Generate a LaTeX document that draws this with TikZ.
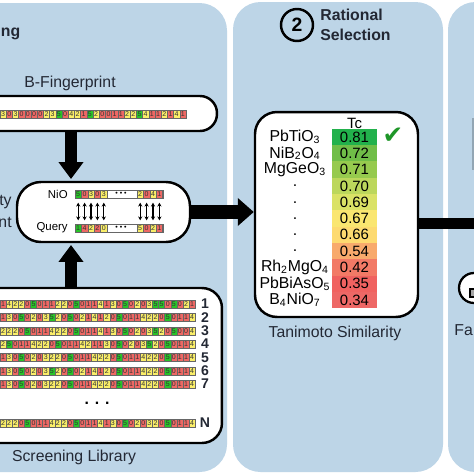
\documentclass[tikz,border=0pt]{standalone}
\usepackage{fontspec}
\setmainfont{Liberation Sans}
\newfontfamily\symfont{DejaVu Sans}
\usetikzlibrary{arrows.meta,positioning}
\definecolor{panelblue}{RGB}{189,213,231}
\definecolor{inkgray}{RGB}{35,40,52}
\definecolor{bitred}{RGB}{238,104,100}
\definecolor{bityellow}{RGB}{250,238,104}
\definecolor{bitgreen}{RGB}{40,196,40}
\colorlet{bit0}{bitred}\colorlet{bit1}{bitred}
\colorlet{bit2}{bityellow}\colorlet{bit3}{bityellow}\colorlet{bit4}{bityellow}
\colorlet{bit5}{bitgreen}
\colorlet{bitR}{bitred}\colorlet{bitY}{bityellow}\colorlet{bitG}{bitgreen}
\definecolor{tcA}{RGB}{34,177,76}
\definecolor{tcB}{RGB}{112,190,72}
\definecolor{tcC}{RGB}{150,202,78}
\definecolor{tcD}{RGB}{188,215,92}
\definecolor{tcE}{RGB}{218,226,102}
\definecolor{tcF}{RGB}{250,230,112}
\definecolor{tcG}{RGB}{253,218,112}
\definecolor{tcH}{RGB}{248,170,108}
\definecolor{tcI}{RGB}{242,122,102}
\definecolor{tcJ}{RGB}{240,98,96}
\definecolor{tcK}{RGB}{238,104,102}
\definecolor{tickgreen}{RGB}{30,150,40}
\tikzset{
  panel/.style={fill=panelblue, rounded corners=0.55cm},
  stadium/.style={draw, fill=white, line width=1.4pt, rounded corners=#1, inner sep=0pt},
  bitcell/.style={draw=black!60, line width=0.25pt, inner sep=0pt, minimum height=0.16cm, minimum width=#1, font=\fontsize{4}{4}\selectfont, text=black!80},
  bitframe/.style={draw=black!60, line width=0.25pt, fill=white},
  bigarrow/.style={line width=0.26cm, -{Triangle[width=0.48cm,length=0.34cm]}},
  bigline/.style={line width=0.23cm},
  pairarrow/.style={line width=0.7pt, {Stealth[length=2.2pt,width=2.4pt]}-{Stealth[length=2.2pt,width=2.4pt]}, shorten <=0.09cm, shorten >=0.07cm},
  lbl/.style={font=\fontsize{9}{11}\selectfont, text=inkgray, inner sep=0pt},
  small/.style={font=\fontsize{6.5}{7}\selectfont, inner sep=0pt},
  tcval/.style={inner sep=0pt, minimum width=0.9cm, minimum height=0.326cm, font=\fontsize{8.5}{9}\selectfont},
  formula/.style={font=\fontsize{9}{10}\selectfont, inner sep=0pt}
}
\begin{document}
\begin{tikzpicture}[x=0.02cm,y=-0.02cm]
\useasboundingbox (0,0) rectangle (474,474);
\fill[white] (0,0) rectangle (474,474);
\fill[panel] (-40,3) rectangle (227,472);
\fill[panel] (233,2) rectangle (443,472);
\fill[panel] (448,2) rectangle (540,472);

% fingerprinting
\node[lbl, font=\fontsize{9}{11}\selectfont\bfseries, anchor=west] (title1) at (0.5,34) {ng};
\node[lbl] (bfplbl) at (70,83) {B-Fingerprint};
\node[stadium=0.34cm, minimum width=5.14cm, minimum height=0.7cm] (bfp) at (88.5,113.5) {};
\foreach \d [count=\i] in {3,0,3,0,0,0,0,2,3,5,0,4,2,1,5,2,0,0,1,1,2,2,5,4,1,1,2,1,4,1}
  \node[bitcell=0.124cm, fill=bit\d] (b\i) at ({6.2*\i-3.1},114) {\d};

\node[stadium=0.48cm, minimum width=3.46cm, minimum height=1.2cm] (qbox) at (103.5,212) {};
\node[lbl, anchor=east] (side1) at (12,202) {ty};
\node[lbl, anchor=east] (side2) at (12,222) {nt};
\node[small, anchor=east] (niolbl) at (68,194) {NiO};
\node[small, anchor=east] (qlbl) at (68,228) {Query};
\draw[bitframe] (75,190) rectangle (163,198);
\draw[bitframe] (75,224) rectangle (163,232);
\node[small, font=\fontsize{4}{4}\selectfont] (ndots) at (121,194) {\textbullet\ \textbullet\ \textbullet};
\node[small, font=\fontsize{4}{4}\selectfont] (qdots) at (121,228) {\textbullet\ \textbullet\ \textbullet};
\foreach \d/\c/\x [count=\i] in {5/G/78.2,0/R/84.6,3/Y/91,0/R/97.4,3/Y/103.8,2/Y/140.2,0/R/146.6,4/Y/153,1/R/159.4}
  \node[bitcell=0.128cm, fill=bit\c] (n\i) at (\x,194) {\d};
\foreach \d/\c/\x [count=\i] in {1/G/78.2,4/R/84.6,2/Y/91,2/R/97.4,0/Y/103.8,5/Y/140.2,0/R/146.6,2/Y/153,1/R/159.4}
  \node[bitcell=0.128cm, fill=bit\c] (q\i) at (\x,228) {\d};
\foreach \i in {1,...,9}
  \draw[pairarrow] (n\i) -- (q\i);

% screening library
\node[stadium=0.4cm, minimum width=5.24cm, minimum height=3.1cm] (lib) at (91,365.5) {};
\foreach \y/\lab/\bits in {
  304/1/{1,4,2,2,0,5,0,1,1,2,2,0,5,0,1,1,4,1,3,0,5,0,2,0,3,5,5,0,5,0,2,1},
  317.5/2/{1,3,0,5,0,2,0,3,5,2,0,5,0,2,1,4,1,2,0,5,0,1,1,4,2,2,0,5,0,1,1,4},
  331/3/{2,2,2,0,5,0,1,1,4,2,2,0,5,0,1,1,4,1,3,0,5,0,2,0,3,5,2,0,5,0,0,4},
  344/4/{2,5,0,1,1,4,2,2,0,5,0,1,1,4,2,1,1,3,0,5,0,2,0,3,5,2,0,5,0,1,1,4},
  357.5/5/{1,3,0,5,0,2,0,3,2,2,0,5,0,1,1,4,2,2,0,5,0,1,1,4,2,2,0,5,0,1,1,4},
  371/6/{1,3,0,5,0,2,0,3,5,2,0,5,0,2,1,4,1,2,0,5,0,1,1,4,2,2,0,5,0,1,1,4},
  384/7/{1,3,0,5,0,2,0,3,2,2,0,5,0,1,1,4,2,2,0,5,0,1,1,4,2,2,0,5,0,1,1,4},
  423/N/{2,2,2,0,5,0,1,1,4,2,2,0,5,0,1,1,4,1,3,0,5,0,2,0,3,2,0,5,0,1,1,4}}{
  \foreach \d [count=\i] in \bits
    \node[bitcell=0.122cm, fill=bit\d] (r\lab-\i) at ({6.1*\i-3.05},\y) {\d};
  \node[font=\fontsize{8}{9}\selectfont\bfseries, text=inkgray, inner sep=0pt] (lab\lab) at (205,\y) {\lab};
}
\node[font=\fontsize{9}{9}\selectfont\bfseries, inner sep=0pt] (libdots) at (97,403) {. . .};
\node[lbl] (liblbl) at (74,457) {Screening Library};

\coordinate (dnx) at (71,0);
\draw[bigarrow, shorten >=1pt] (bfp.south -| dnx) -- (qbox.north -| dnx);
\draw[bigarrow, shorten >=1pt] (lib.north -| dnx) -- (qbox.south -| dnx);

% rational selection
\node[circle, draw, line width=1.4pt, minimum size=0.64cm, inner sep=0pt, font=\fontsize{11}{11}\selectfont\bfseries] (step2) at (297,25) {2};
\node[lbl, font=\fontsize{9}{11.5}\selectfont\bfseries, anchor=west, align=left] (title2) at (320,25) {Rational\\Selection};
\node[stadium=0.44cm, minimum width=3.26cm, minimum height=4.1cm] (tcbox) at (336.5,214.5) {};
\node[tcval, minimum height=0cm] (tchead) at (354.5,123) {Tc};
\foreach \f/\v/\c [count=\i] in {PbTiO\textsubscript{3}/0.81/tcA, NiB\textsubscript{2}O\textsubscript{4}/0.72/tcB,
    MgGeO\textsubscript{3}/0.71/tcC, ./0.70/tcD, ./0.69/tcE, ./0.67/tcF, ./0.66/tcG, ./0.54/tcH,
    Rh\textsubscript{2}MgO\textsubscript{4}/0.42/tcI, PbBiAsO\textsubscript{5}/0.35/tcJ, B\textsubscript{4}NiO\textsubscript{7}/0.34/tcK}{
  \node[tcval, fill=\c] (v\i) at (354.5,{137+16.3*(\i-1)}) {\v};
  \node[formula] (f\i) at (295,{137+16.3*(\i-1)}) {\f};
}
\node[text=tickgreen, inner sep=0pt, font=\symfont\fontsize{14}{14}\selectfont] (tick) at (393,136) {✔};
\node[lbl] (tclbl) at (335,333) {Tanimoto Similarity};

\draw[bigarrow, line width=0.28cm, -{Triangle[width=0.54cm,length=0.32cm]}] (qbox.east) -- (tcbox.west |- qbox.east);
\coordinate (offR) at (480,223.5);
\draw[bigline] (tcbox.east |- offR) -- (offR);

% next panel
\fill[fill=black!22!panelblue] (472,118) rectangle (480,170);
\draw[line width=1.3pt, fill=white] (474,288) circle (0.3cm);
\draw[line width=0.6pt, fill=black!35] (470,289) rectangle (478,297);
\node[lbl, anchor=west] (title3) at (454,330) {Fa};
\end{tikzpicture}
\end{document}
